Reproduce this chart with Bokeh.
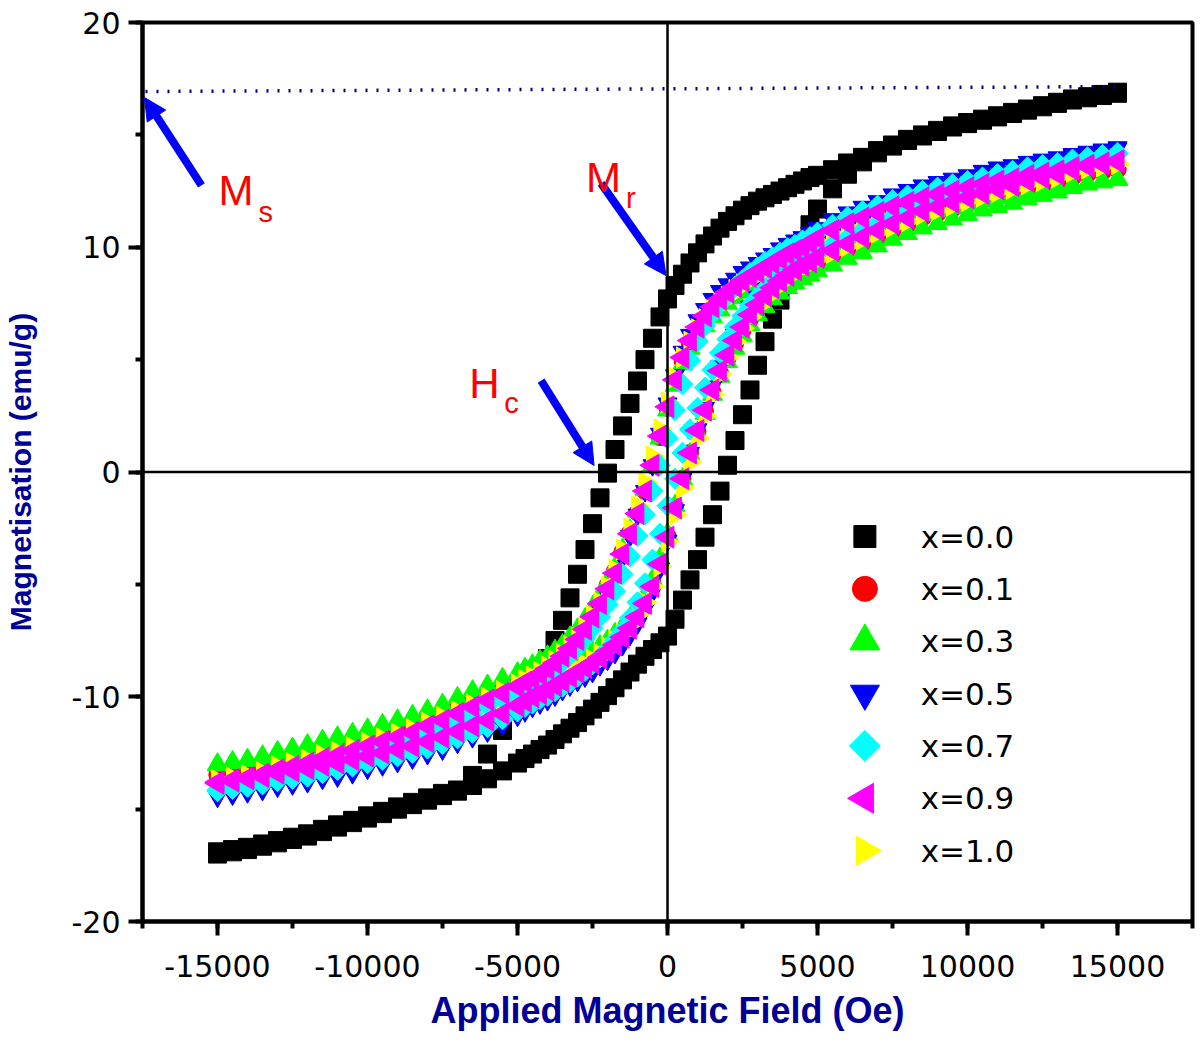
import math

from bokeh.core.properties import value
from bokeh.embed import file_html
from bokeh.models import (Arrow, ColumnDataSource, Label, NormalHead, PrintfTickFormatter,
                          Range1d, SingleIntervalTicker, Span)
from bokeh.plotting import figure
from bokeh.resources import INLINE

# Applied field (Oe) at which each loop point was recorded
H_OE = [
    -15000, -14500, -14000, -13500, -13000, -12500, -12000, -11500, -11000, -10500,
    -10000, -9500, -9000, -8500, -8000, -7500, -7000, -6500, -6000, -5500,
    -5000, -4750, -4500, -4250, -4000, -3750, -3500, -3250, -3000, -2750,
    -2500, -2250, -2000, -1750, -1500, -1250, -1000, -750, -500, -250,
    0, 250, 500, 750, 1000, 1250, 1500, 1750, 2000, 2250,
    2500, 2750, 3000, 3250, 3500, 3750, 4000, 4250, 4500, 4750,
    5000, 5500, 6000, 6500, 7000, 7500, 8000, 8500, 9000, 9500,
    10000, 10500, 11000, 11500, 12000, 12500, 13000, 13500, 14000, 14500,
    15000,
]

# Magnetisation (emu/g). *_DEC: branch swept from +15 kOe down to -15 kOe,
# *_INC: branch swept back up; both listed in the order of H_OE.
M_X00_DEC = [
    -16.9, -16.8, -16.7, -16.55, -16.4, -16.25, -16.1, -15.9, -15.7, -15.5,
    -15.3, -15.1, -14.9, -14.7, -14.5, -14.3, -14.15, -13.5, -12.55, -11.5,
    -10.45, -9.9, -9.35, -8.85, -8.3, -7.5, -6.6, -5.6, -4.55, -3.45,
    -2.3, -1.15, -0.05, 1.0, 2.05, 3.05, 4.05, 5.0, 5.95, 6.9,
    7.7, 8.3, 8.8, 9.3, 9.75, 10.15, 10.5, 10.85, 11.15, 11.4,
    11.65, 11.85, 12.05, 12.2, 12.35, 12.5, 12.65, 12.8, 12.95, 13.1,
    13.2, 13.45, 13.75, 14.0, 14.3, 14.55, 14.8, 15.0, 15.2, 15.4,
    15.55, 15.7, 15.85, 16.0, 16.15, 16.3, 16.45, 16.6, 16.7, 16.8, 16.9,
]
M_X00_INC = [
    -17.0, -16.9, -16.8, -16.65, -16.5, -16.35, -16.2, -16.0, -15.8, -15.6,
    -15.4, -15.2, -15.0, -14.8, -14.6, -14.4, -14.2, -13.95, -13.65, -13.3,
    -12.95, -12.75, -12.55, -12.35, -12.15, -11.9, -11.65, -11.4, -11.15, -10.85,
    -10.55, -10.25, -9.95, -9.6, -9.25, -8.9, -8.55, -8.2, -7.9, -7.6,
    -7.3, -6.55, -5.7, -4.8, -3.9, -2.9, -1.9, -0.85, 0.3, 1.4,
    2.55, 3.65, 4.75, 5.8, 6.8, 7.65, 8.5, 9.35, 10.2, 11.0,
    11.7, 12.6, 13.25, 13.8, 14.2, 14.5, 14.75, 14.95, 15.15, 15.35,
    15.5, 15.65, 15.8, 15.95, 16.1, 16.25, 16.4, 16.55, 16.65, 16.75, 16.85,
]

M_X01_DEC = [
    -13.45, -13.35, -13.25, -13.1, -12.9, -12.75, -12.6, -12.4, -12.25, -12.1,
    -11.9, -11.7, -11.5, -11.3, -11.0, -10.75, -10.45, -10.15, -9.9, -9.6,
    -9.3, -9.1, -8.95, -8.75, -8.5, -8.25, -8.0, -7.65, -7.25, -6.8,
    -6.3, -5.7, -5.05, -4.4, -3.55, -2.7, -1.8, -0.85, 0.3, 1.55,
    2.85, 4.0, 4.95, 5.7, 6.3, 6.75, 7.15, 7.5, 7.8, 8.05,
    8.3, 8.5, 8.7, 8.85, 9.05, 9.25, 9.45, 9.6, 9.75, 9.95,
    10.15, 10.5, 10.75, 11.0, 11.25, 11.5, 11.7, 11.9, 12.05, 12.2,
    12.35, 12.5, 12.65, 12.75, 12.85, 12.95, 13.05, 13.2, 13.3, 13.4, 13.5,
]
M_X01_INC = [
    -13.5, -13.4, -13.3, -13.2, -13.05, -12.95, -12.85, -12.75, -12.65, -12.5,
    -12.35, -12.2, -12.05, -11.9, -11.7, -11.5, -11.25, -11.0, -10.75, -10.5,
    -10.15, -9.95, -9.75, -9.6, -9.45, -9.25, -9.05, -8.85, -8.7, -8.5,
    -8.3, -8.05, -7.8, -7.5, -7.15, -6.75, -6.3, -5.7, -4.95, -4.0,
    -2.85, -1.55, -0.3, 0.85, 1.8, 2.7, 3.55, 4.4, 5.05, 5.7,
    6.3, 6.8, 7.25, 7.65, 8.0, 8.25, 8.5, 8.75, 8.95, 9.1,
    9.3, 9.6, 9.9, 10.15, 10.45, 10.75, 11.0, 11.3, 11.5, 11.7,
    11.9, 12.1, 12.25, 12.4, 12.6, 12.75, 12.9, 13.1, 13.25, 13.35, 13.45,
]

M_X03_DEC = [
    -13.0, -12.9, -12.8, -12.65, -12.45, -12.3, -12.15, -11.95, -11.8, -11.65,
    -11.45, -11.25, -11.05, -10.85, -10.6, -10.35, -10.05, -9.75, -9.5, -9.2,
    -8.95, -8.75, -8.6, -8.4, -8.2, -7.95, -7.7, -7.35, -7.0, -6.55,
    -6.05, -5.5, -4.9, -4.25, -3.45, -2.6, -1.75, -0.8, 0.3, 1.5,
    2.75, 3.85, 4.8, 5.5, 6.05, 6.5, 6.9, 7.2, 7.5, 7.75,
    8.0, 8.2, 8.35, 8.55, 8.75, 8.95, 9.1, 9.25, 9.4, 9.6,
    9.8, 10.1, 10.4, 10.6, 10.85, 11.1, 11.3, 11.45, 11.6, 11.75,
    11.9, 12.05, 12.2, 12.3, 12.4, 12.5, 12.6, 12.75, 12.85, 12.95, 13.05,
]
M_X03_INC = [
    -13.05, -12.95, -12.85, -12.75, -12.6, -12.5, -12.4, -12.3, -12.2, -12.05,
    -11.9, -11.75, -11.6, -11.45, -11.3, -11.1, -10.85, -10.6, -10.4, -10.1,
    -9.8, -9.6, -9.4, -9.25, -9.1, -8.95, -8.75, -8.55, -8.35, -8.2,
    -8.0, -7.75, -7.5, -7.2, -6.9, -6.5, -6.05, -5.5, -4.8, -3.85,
    -2.75, -1.5, -0.3, 0.8, 1.75, 2.6, 3.45, 4.25, 4.9, 5.5,
    6.05, 6.55, 7.0, 7.35, 7.7, 7.95, 8.2, 8.4, 8.6, 8.75,
    8.95, 9.2, 9.5, 9.75, 10.05, 10.35, 10.6, 10.85, 11.05, 11.25,
    11.45, 11.65, 11.8, 11.95, 12.15, 12.3, 12.45, 12.65, 12.8, 12.9, 13.0,
]

M_X05_DEC = [
    -14.4, -14.3, -14.2, -14.05, -13.85, -13.7, -13.55, -13.35, -13.2, -12.95,
    -12.75, -12.55, -12.35, -12.15, -11.85, -11.6, -11.25, -10.95, -10.65, -10.35,
    -10.0, -9.8, -9.65, -9.45, -9.15, -8.9, -8.6, -8.2, -7.8, -7.35,
    -6.75, -6.1, -5.45, -4.7, -3.8, -2.85, -1.9, -0.85, 0.3, 1.7,
    3.05, 4.3, 5.35, 6.1, 6.75, 7.25, 7.7, 8.05, 8.35, 8.6,
    8.9, 9.1, 9.3, 9.5, 9.7, 9.95, 10.15, 10.3, 10.45, 10.65,
    10.85, 11.25, 11.55, 11.8, 12.05, 12.35, 12.55, 12.75, 12.9, 13.05,
    13.2, 13.4, 13.55, 13.65, 13.8, 13.9, 14.0, 14.15, 14.25, 14.35, 14.45,
]
M_X05_INC = [
    -14.45, -14.35, -14.25, -14.15, -14.0, -13.9, -13.8, -13.65, -13.55, -13.4,
    -13.2, -13.05, -12.9, -12.75, -12.55, -12.35, -12.05, -11.8, -11.55, -11.25,
    -10.85, -10.65, -10.45, -10.3, -10.15, -9.95, -9.7, -9.5, -9.3, -9.1,
    -8.9, -8.6, -8.35, -8.05, -7.7, -7.25, -6.75, -6.1, -5.35, -4.3,
    -3.05, -1.7, -0.3, 0.85, 1.9, 2.85, 3.8, 4.7, 5.45, 6.1,
    6.75, 7.35, 7.8, 8.2, 8.6, 8.9, 9.15, 9.45, 9.65, 9.8,
    10.0, 10.35, 10.65, 10.95, 11.25, 11.6, 11.85, 12.15, 12.35, 12.55,
    12.75, 12.95, 13.2, 13.35, 13.55, 13.7, 13.85, 14.05, 14.2, 14.3, 14.4,
]

M_X07_DEC = [
    -14.15, -14.05, -13.95, -13.8, -13.6, -13.45, -13.3, -13.1, -12.9, -12.7,
    -12.5, -12.3, -12.1, -11.9, -11.6, -11.35, -11.05, -10.75, -10.4, -10.1,
    -9.8, -9.6, -9.45, -9.25, -9.0, -8.75, -8.45, -8.15, -7.8, -7.4,
    -6.95, -6.45, -5.9, -5.3, -4.55, -3.75, -2.85, -1.9, -0.85, 0.3,
    1.5, 2.75, 3.9, 4.95, 5.8, 6.5, 7.05, 7.5, 7.9, 8.25,
    8.55, 8.85, 9.1, 9.35, 9.55, 9.75, 9.95, 10.1, 10.3, 10.45,
    10.65, 11.0, 11.35, 11.6, 11.85, 12.1, 12.3, 12.5, 12.65, 12.8,
    12.95, 13.1, 13.25, 13.4, 13.55, 13.65, 13.75, 13.9, 14.0, 14.1, 14.2,
]
M_X07_INC = [
    -14.2, -14.1, -14.0, -13.9, -13.75, -13.65, -13.55, -13.4, -13.25, -13.1,
    -12.95, -12.8, -12.65, -12.5, -12.3, -12.1, -11.85, -11.6, -11.35, -11.0,
    -10.65, -10.45, -10.3, -10.1, -9.95, -9.75, -9.55, -9.35, -9.1, -8.85,
    -8.55, -8.25, -7.9, -7.5, -7.05, -6.5, -5.8, -4.95, -3.9, -2.75,
    -1.5, -0.3, 0.85, 1.9, 2.85, 3.75, 4.55, 5.3, 5.9, 6.45,
    6.95, 7.4, 7.8, 8.15, 8.45, 8.75, 9.0, 9.25, 9.45, 9.6,
    9.8, 10.1, 10.4, 10.75, 11.05, 11.35, 11.6, 11.9, 12.1, 12.3,
    12.5, 12.7, 12.9, 13.1, 13.3, 13.45, 13.6, 13.8, 13.95, 14.05, 14.15,
]

M_X09_DEC = [
    -13.8, -13.7, -13.6, -13.45, -13.25, -13.1, -12.95, -12.75, -12.6, -12.4,
    -12.2, -12.0, -11.8, -11.6, -11.3, -11.05, -10.75, -10.45, -10.15, -9.85,
    -9.55, -9.35, -9.2, -9.0, -8.75, -8.5, -8.2, -7.85, -7.45, -7.0,
    -6.45, -5.85, -5.2, -4.5, -3.65, -2.75, -1.85, -0.85, 0.3, 1.6,
    2.9, 4.1, 5.1, 5.85, 6.45, 6.95, 7.35, 7.7, 8.0, 8.25,
    8.5, 8.7, 8.9, 9.1, 9.3, 9.5, 9.7, 9.85, 10.0, 10.2,
    10.4, 10.75, 11.05, 11.3, 11.55, 11.8, 12.0, 12.2, 12.35, 12.5,
    12.65, 12.8, 12.95, 13.05, 13.2, 13.3, 13.4, 13.55, 13.65, 13.75, 13.85,
]
M_X09_INC = [
    -13.85, -13.75, -13.65, -13.55, -13.4, -13.3, -13.2, -13.05, -12.95, -12.8,
    -12.65, -12.5, -12.35, -12.2, -12.0, -11.8, -11.55, -11.3, -11.05, -10.75,
    -10.4, -10.2, -10.0, -9.85, -9.7, -9.5, -9.3, -9.1, -8.9, -8.7,
    -8.5, -8.25, -8.0, -7.7, -7.35, -6.95, -6.45, -5.85, -5.1, -4.1,
    -2.9, -1.6, -0.3, 0.85, 1.85, 2.75, 3.65, 4.5, 5.2, 5.85,
    6.45, 7.0, 7.45, 7.85, 8.2, 8.5, 8.75, 9.0, 9.2, 9.35,
    9.55, 9.85, 10.15, 10.45, 10.75, 11.05, 11.3, 11.6, 11.8, 12.0,
    12.2, 12.4, 12.6, 12.75, 12.95, 13.1, 13.25, 13.45, 13.6, 13.7, 13.8,
]

M_X10_DEC = [
    -13.7, -13.6, -13.5, -13.35, -13.1, -12.95, -12.8, -12.6, -12.45, -12.25,
    -12.05, -11.85, -11.65, -11.45, -11.15, -10.9, -10.65, -10.35, -10.05, -9.75,
    -9.45, -9.25, -9.1, -8.9, -8.65, -8.4, -8.1, -7.75, -7.35, -6.9,
    -6.4, -5.8, -5.1, -4.35, -3.45, -2.5, -1.5, -0.45, 0.7, 1.9,
    3.1, 4.2, 5.1, 5.8, 6.35, 6.8, 7.2, 7.5, 7.8, 8.1,
    8.35, 8.55, 8.75, 8.95, 9.15, 9.35, 9.55, 9.7, 9.85, 10.05,
    10.25, 10.6, 10.9, 11.15, 11.4, 11.65, 11.85, 12.05, 12.2, 12.35,
    12.5, 12.65, 12.8, 12.9, 13.05, 13.15, 13.25, 13.4, 13.5, 13.6, 13.7,
]
M_X10_INC = [
    -13.7, -13.6, -13.5, -13.4, -13.25, -13.15, -13.05, -12.9, -12.8, -12.65,
    -12.5, -12.35, -12.2, -12.05, -11.85, -11.65, -11.4, -11.15, -10.9, -10.6,
    -10.25, -10.05, -9.85, -9.7, -9.55, -9.35, -9.15, -8.95, -8.75, -8.55,
    -8.35, -8.1, -7.8, -7.5, -7.2, -6.8, -6.35, -5.8, -5.1, -4.2,
    -3.1, -1.9, -0.7, 0.45, 1.5, 2.5, 3.45, 4.35, 5.1, 5.8,
    6.4, 6.9, 7.35, 7.75, 8.1, 8.4, 8.65, 8.9, 9.1, 9.25,
    9.45, 9.75, 10.05, 10.35, 10.65, 10.9, 11.15, 11.45, 11.65, 11.85,
    12.05, 12.25, 12.45, 12.6, 12.8, 12.95, 13.1, 13.35, 13.5, 13.6, 13.7,
]

LABELS = ["x=0.0", "x=0.1", "x=0.3", "x=0.5", "x=0.7", "x=0.9", "x=1.0"]
BRANCHES = [
    (M_X00_DEC, M_X00_INC), (M_X01_DEC, M_X01_INC), (M_X03_DEC, M_X03_INC),
    (M_X05_DEC, M_X05_INC), (M_X07_DEC, M_X07_INC), (M_X09_DEC, M_X09_INC),
    (M_X10_DEC, M_X10_INC),
]

# marker, colour, size on the plot, rotation, size in the key
STYLES = [
    ("square", "#000000", 18, 0.0, 22),
    ("circle", "#FF0000", 17, 0.0, 25),
    ("triangle", "#00FF00", 20, 0.0, 30),
    ("inverted_triangle", "#0000FF", 19, 0.0, 29),
    ("square", "#00FFFF", 15, math.pi / 4, 22),
    ("triangle", "#FF00FF", 22, math.pi / 2, 30),
    ("triangle", "#FFFF00", 21, -math.pi / 2, 29),
]
DRAW_ORDER = [0, 1, 2, 3, 6, 4, 5]

TEXT_FONT = "DejaVu Sans"
LABEL_FONT = "Liberation Sans"
AXIS_TITLE_COLOR = "#000096"

p = figure(
    width=1200, height=1041,
    x_range=Range1d(-17500, 17500), y_range=Range1d(-20, 20),
    output_backend="svg", toolbar_location=None,
    min_border_left=141, min_border_right=8, min_border_top=22, min_border_bottom=120,
    background_fill_color="white", border_fill_color="white",
    x_axis_label="Applied Magnetic Field (Oe)",
    y_axis_label="Magnetisation (emu/g)",
)
p.xgrid.visible = False
p.ygrid.visible = False
p.outline_line_color = "black"
p.outline_line_width = 4
p.outline_line_alpha = 1.0

p.xaxis.ticker = SingleIntervalTicker(interval=5000, num_minor_ticks=2)
p.yaxis.ticker = SingleIntervalTicker(interval=10, num_minor_ticks=2)

for ax in (p.xaxis[0], p.yaxis[0]):
    ax.formatter = PrintfTickFormatter(format="%d")
    ax.axis_line_width = 4
    ax.major_tick_line_width = 4
    ax.minor_tick_line_width = 4
    ax.major_tick_out = 14
    ax.major_tick_in = 0
    ax.minor_tick_out = 7
    ax.minor_tick_in = 0
    ax.major_label_text_font = TEXT_FONT
    ax.major_label_text_font_size = "30px"
    ax.major_label_text_color = "black"
    ax.axis_label_text_font = LABEL_FONT
    ax.axis_label_text_font_style = "bold"
    ax.axis_label_text_color = AXIS_TITLE_COLOR

p.xaxis.major_label_standoff = 19
p.xaxis.axis_label_standoff = 10
p.xaxis.axis_label_text_font_size = "36px"
p.yaxis.major_label_standoff = 8
p.yaxis.axis_label_standoff = 32
p.yaxis.axis_label_text_font_size = "30px"

# hysteresis loops, each drawn as both sweep branches
for i in DRAW_ORDER:
    dec, inc = BRANCHES[i]
    marker, color, size, angle, _ = STYLES[i]
    src = ColumnDataSource(data=dict(H=H_OE + H_OE, M=dec + inc))
    p.scatter(x="H", y="M", source=src, marker=marker, size=size, angle=angle,
              fill_color=color, line_color=color, line_width=1)

# zero lines through the origin
p.add_layout(Span(location=0, dimension="height", line_color="black", line_width=2.5))
p.add_layout(Span(location=0, dimension="width", line_color="black", line_width=2.5))

# saturation guide
p.segment(x0=-17400, y0=16.93, x1=15050, y1=17.15, line_color="#00007F",
          line_width=3.5, line_dash="2 9")

# pointers to Ms, Mr and Hc
ARROW_BLUE = "#0000FF"
for xs, ys, xe, ye in [(-15535, 12.75, -17433, 16.66),
                       (-2215, 12.84, -50, 8.74),
                       (-4213, 4.07, -2448, 0.29)]:
    p.add_layout(Arrow(
        end=NormalHead(size=22, fill_color=ARROW_BLUE, line_color=ARROW_BLUE, line_width=1),
        x_start=xs, y_start=ys, x_end=xe, y_end=ye,
        line_color=ARROW_BLUE, line_width=8,
    ))

for txt, x, y, fs in [("M", -14969, 12.53, "42px"), ("s", -13637, 11.55, "29px"),
                      ("M", -2714, 13.10, "42px"), ("r", -1382, 12.21, "29px"),
                      ("H", -6611, 3.94, "42px"), ("c", -5445, 3.09, "29px")]:
    p.add_layout(Label(x=x, y=y, text=txt, text_font=LABEL_FONT, text_font_size=fs,
                       text_color="#FF0000", text_align="left",
                       text_baseline="alphabetic"))

# key: one row per composition
KEY_SWATCH_H = 6580
KEY_TEXT_H = 8440
KEY_TOP = -2.87
KEY_STEP = 2.33
for i, label in enumerate(LABELS):
    marker, color, _, angle, key_size = STYLES[i]
    row_y = KEY_TOP - i * KEY_STEP
    p.scatter(x=[KEY_SWATCH_H], y=[row_y], marker=marker, size=key_size, angle=angle,
              fill_color=color, line_color=color, line_width=1)
    p.text(x=[KEY_TEXT_H], y=[row_y], text=[label], text_font=value(TEXT_FONT),
           text_font_size=value("31px"), text_color="black",
           text_baseline="middle", text_align="left")

open("out.html", "w").write(file_html(p, INLINE))
